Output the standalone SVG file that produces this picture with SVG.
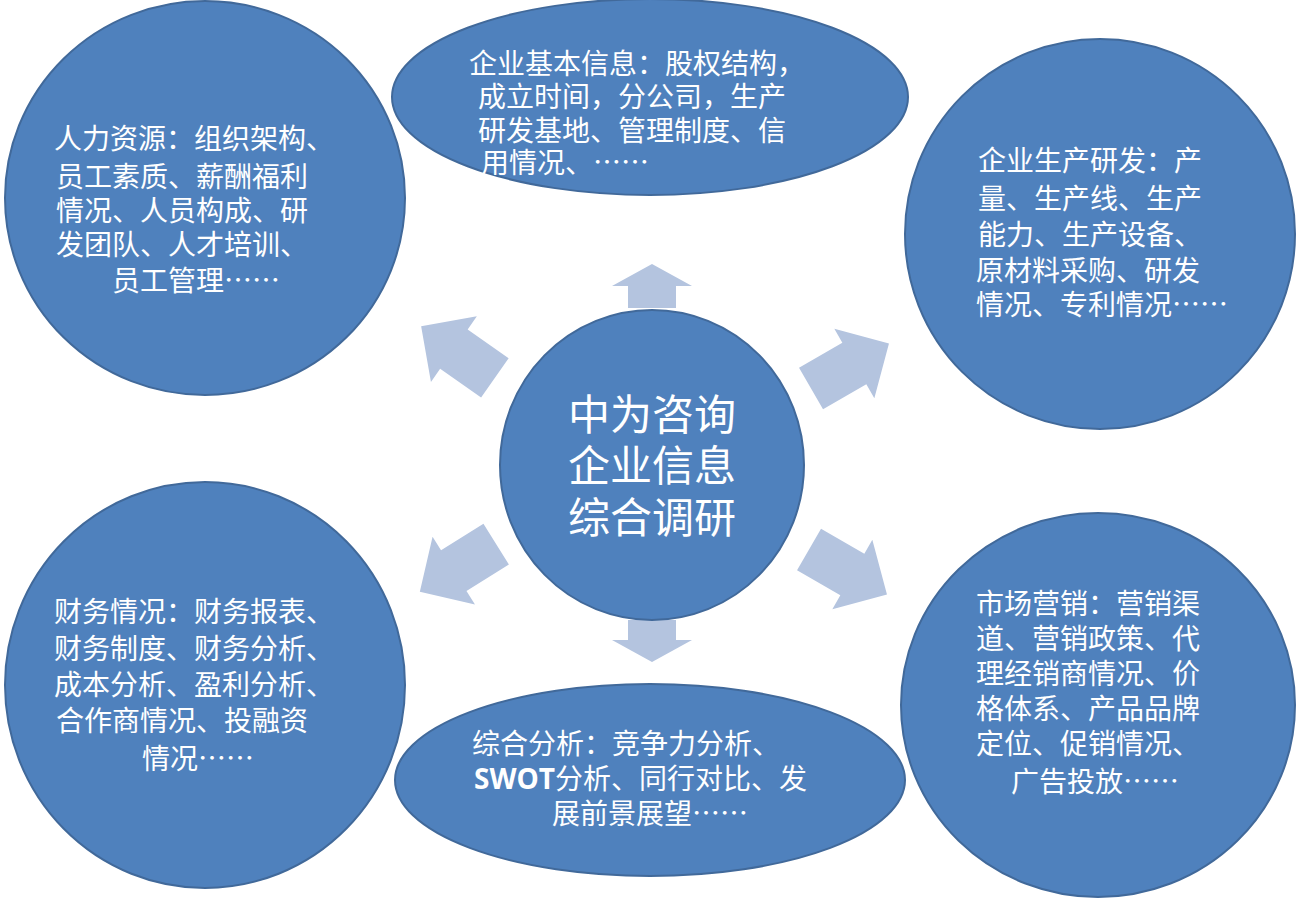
<svg xmlns="http://www.w3.org/2000/svg" width="1297" height="900" viewBox="0 0 1297 900">
<style>
.n{fill:#4f81bd;stroke:#41699a;stroke-width:2}
.t{font-family:"Noto Sans CJK SC","Noto Sans",sans-serif;font-size:28px;fill:#fff}
.c{font-family:"Noto Sans CJK SC","Noto Sans",sans-serif;font-size:42px;fill:#fff;text-anchor:middle}
.a{fill:#b4c4df}
</style>
<rect width="1297" height="900" fill="#fff"/>
<g id="connectors">
<polygon class="a" points="612,286 652,264 692,286 676,286 676,308 628,308 628,286"/>
<polygon class="a" points="612,640 652,662 692,640 676,640 676,620 628,620 628,640"/>
<g transform="translate(458,352) rotate(215)"><polygon class="a" points="-45,-24 5,-24 5,-40 45,0 5,40 5,24 -45,24"/></g>
<g transform="translate(850,366) rotate(-30)"><polygon class="a" points="-45,-24 5,-24 5,-40 45,0 5,40 5,24 -45,24"/></g>
<g transform="translate(458,568) rotate(148)"><polygon class="a" points="-45,-24 5,-24 5,-40 45,0 5,40 5,24 -45,24"/></g>
<g transform="translate(848,572) rotate(30)"><polygon class="a" points="-45,-24 5,-24 5,-40 45,0 5,40 5,24 -45,24"/></g>
</g>
<g id="top">
<ellipse class="n" cx="650" cy="97" rx="258" ry="98"/>
<text class="t" x="469" y="74">企业基本信息：股权结构，</text>
<text class="t" x="478" y="107">成立时间，分公司，生产</text>
<text class="t" x="478" y="141">研发基地、管理制度、信</text>
<text class="t" x="481" y="173">用情况、……</text>
</g>
<g id="topleft">
<ellipse class="n" cx="205" cy="198" rx="200" ry="197"/>
<text class="t" x="54" y="149">人力资源：组织架构、</text>
<text class="t" x="56" y="187">员工素质、薪酬福利</text>
<text class="t" x="56" y="221">情况、人员构成、研</text>
<text class="t" x="56" y="255">发团队、人才培训、</text>
<text class="t" x="112" y="291">员工管理……</text>
</g>
<g id="topright">
<ellipse class="n" cx="1100" cy="234" rx="195" ry="195"/>
<text class="t" x="978" y="171">企业生产研发：产</text>
<text class="t" x="978" y="209">量、生产线、生产</text>
<text class="t" x="978" y="245">能力、生产设备、</text>
<text class="t" x="976" y="281">原材料采购、研发</text>
<text class="t" x="976" y="315">情况、专利情况……</text>
</g>
<g id="center">
<ellipse class="n" cx="652" cy="465" rx="152" ry="155"/>
<text class="c" x="652" y="430">中为咨询</text>
<text class="c" x="652" y="481">企业信息</text>
<text class="c" x="652" y="533">综合调研</text>
</g>
<g id="bottomleft">
<ellipse class="n" cx="205" cy="685" rx="200" ry="203"/>
<text class="t" x="54" y="622">财务情况：财务报表、</text>
<text class="t" x="54" y="659">财务制度、财务分析、</text>
<text class="t" x="54" y="695">成本分析、盈利分析、</text>
<text class="t" x="56" y="731">合作商情况、投融资</text>
<text class="t" x="142" y="769">情况……</text>
</g>
<g id="bottom">
<ellipse class="n" cx="650" cy="780" rx="255" ry="96"/>
<text class="t" x="472" y="754">综合分析：竞争力分析、</text>
<text class="t" x="474" y="789"><tspan font-weight="bold" font-family="'Open Sans',sans-serif">SWOT</tspan>分析、同行对比、发</text>
<text class="t" x="552" y="824">展前景展望……</text>
</g>
<g id="bottomright">
<ellipse class="n" cx="1098" cy="705" rx="197" ry="192"/>
<text class="t" x="976" y="614">市场营销：营销渠</text>
<text class="t" x="976" y="649">道、营销政策、代</text>
<text class="t" x="976" y="684">理经销商情况、价</text>
<text class="t" x="976" y="719">格体系、产品品牌</text>
<text class="t" x="976" y="754">定位、促销情况、</text>
<text class="t" x="1011" y="792">广告投放……</text>
</g>
</svg>
